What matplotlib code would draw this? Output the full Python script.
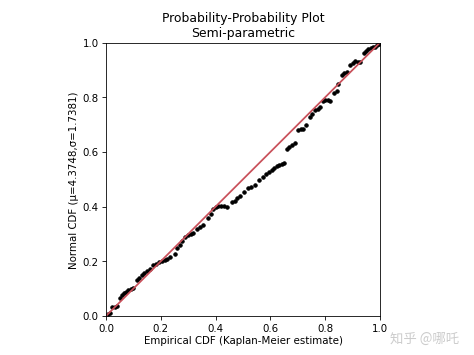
import matplotlib
matplotlib.use("Agg")
import matplotlib.pyplot as plt

# values
empirical = [0.008, 0.014, 0.023, 0.032, 0.041, 0.051, 0.06, 0.067, 0.073, 0.082, 0.091, 0.10,
             0.112, 0.12, 0.13, 0.14, 0.15, 0.16, 0.173, 0.182, 0.192, 0.203, 0.214, 0.224, 0.234,
             0.252, 0.26, 0.27, 0.279, 0.288, 0.298, 0.309, 0.319, 0.331, 0.343, 0.355, 0.373,
             0.382, 0.389, 0.40, 0.41, 0.42, 0.43, 0.44, 0.459, 0.469, 0.479, 0.489, 0.504, 0.519,
             0.531, 0.544, 0.56, 0.574, 0.584, 0.595, 0.605, 0.614, 0.623, 0.633, 0.642, 0.651,
             0.659, 0.667, 0.678, 0.69, 0.702, 0.711, 0.72, 0.73, 0.745, 0.752, 0.763, 0.772,
             0.781, 0.791, 0.80, 0.81, 0.818, 0.833, 0.844, 0.848, 0.86, 0.869, 0.878, 0.891,
             0.90, 0.909, 0.918, 0.927, 0.942, 0.95, 0.957, 0.966, 0.975, 0.982, 0.99, 0.996]
normal_cdf = [0.007, 0.012, 0.033, 0.034, 0.037, 0.065, 0.077, 0.083, 0.089, 0.094, 0.098, 0.101,
              0.132, 0.14, 0.15, 0.157, 0.164, 0.171, 0.187, 0.191, 0.196, 0.201, 0.206, 0.21, 0.215,
              0.227, 0.25, 0.26, 0.275, 0.29, 0.295, 0.30, 0.303, 0.317, 0.325, 0.333, 0.36,
              0.372, 0.393, 0.398, 0.403, 0.403, 0.402, 0.40, 0.415, 0.422, 0.43, 0.44, 0.452, 0.467,
              0.472, 0.48, 0.496, 0.51, 0.518, 0.527, 0.535, 0.542, 0.549, 0.553, 0.556, 0.559,
              0.61, 0.617, 0.625, 0.632, 0.679, 0.682, 0.684, 0.70, 0.728, 0.74, 0.752, 0.757,
              0.763, 0.788, 0.79, 0.789, 0.788, 0.816, 0.824, 0.85, 0.883, 0.888, 0.893, 0.919,
              0.926, 0.932, 0.93, 0.928, 0.962, 0.97, 0.978, 0.98, 0.982, 0.984, 0.99, 0.995]
line_ends = [0, 1]
ticks = [0.0, 0.2, 0.4, 0.6, 0.8, 1.0]

fig = plt.figure(figsize=(6.4, 4.8), dpi=74.0625)
ax = fig.add_axes([106 / 474, 1 - 316 / 355, 274 / 474, 273 / 355])

ax.plot(empirical, normal_cdf, "o", color="black", ms=3.3)
ax.plot(line_ends, line_ends, color="#c9505a", lw=1.7)

ax.set_xlim(0, 1)
ax.set_ylim(0, 1)
ax.set_xticks(ticks)
ax.set_yticks(ticks)
ax.set_xlabel("Empirical CDF (Kaplan-Meier estimate)", labelpad=2)
ax.set_ylabel("Normal CDF (μ=4.3748,σ=1.7381)", labelpad=4)
ax.set_title("Probability-Probability Plot\nSemi-parametric", pad=6)

# watermark
fig.text(390 / 474, 1 - 342 / 355, "知乎 @哪吒", color="#cccccc", fontsize=13,
         va="baseline", family=["Noto Sans CJK SC", "DejaVu Sans"])

fig.savefig("out.png", dpi=74.0625)
plt.close(fig)
